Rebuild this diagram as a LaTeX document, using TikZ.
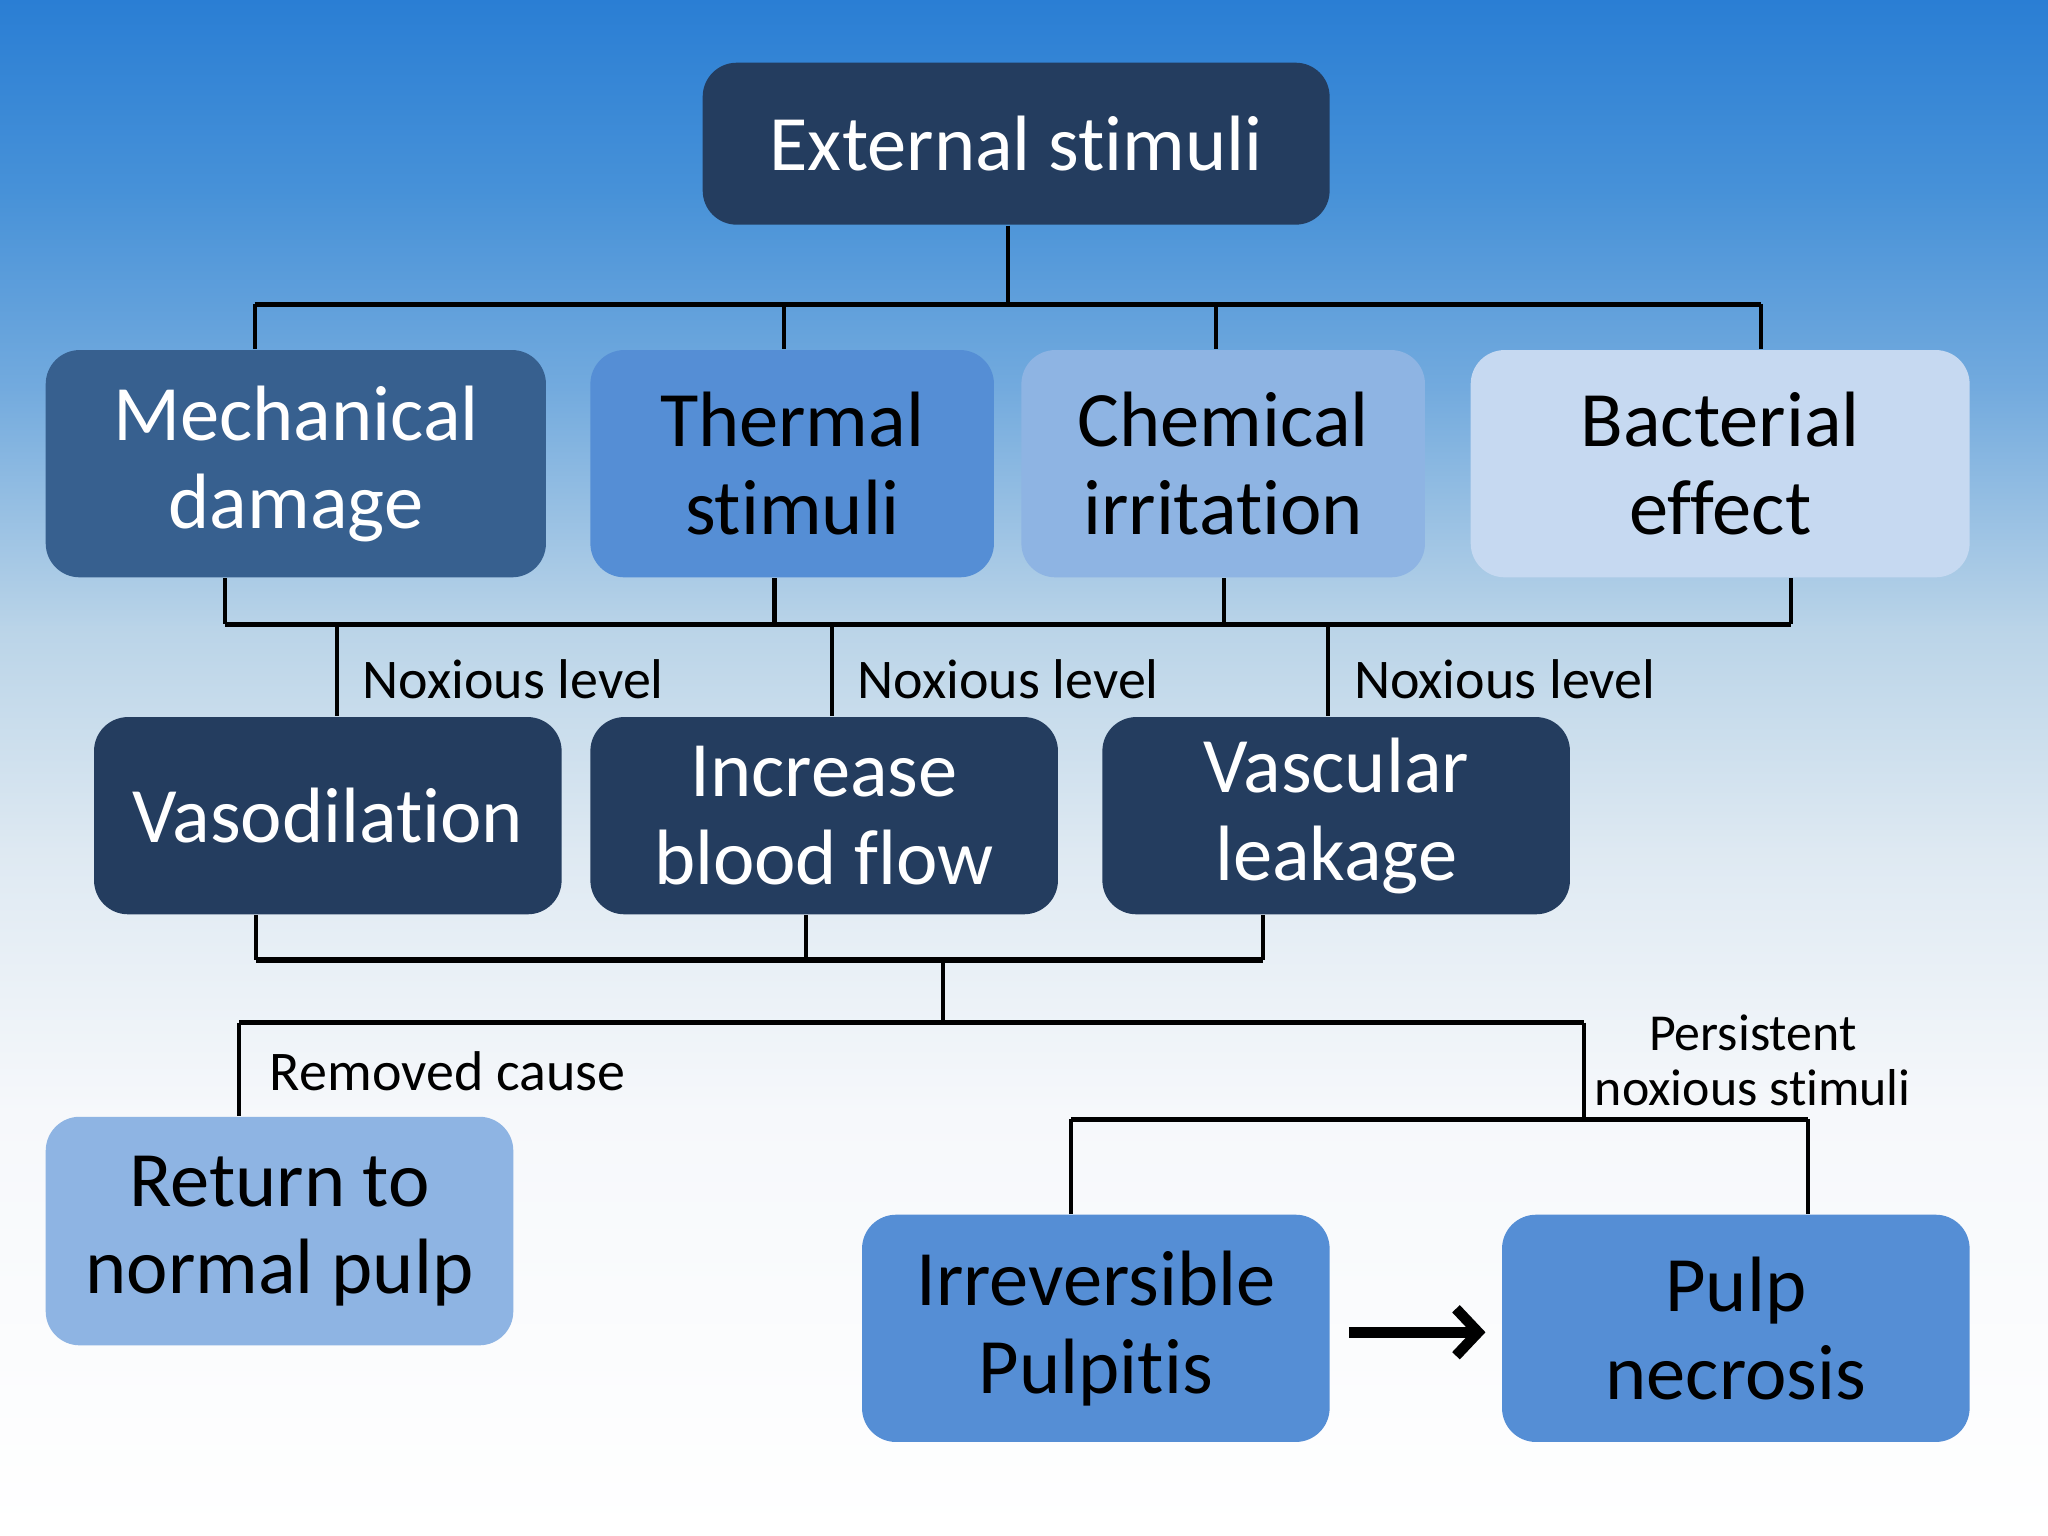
\documentclass[tikz,border=0pt]{standalone}
\usepackage{fontspec}
\setmainfont{Carlito}[Ligatures=NoCommon]
\usetikzlibrary{arrows.meta}
\definecolor{navy}{HTML}{243D5F}
\definecolor{mechc}{HTML}{37608F}
\definecolor{thermc}{HTML}{558ED5}
\definecolor{chemc}{HTML}{8EB4E3}
\definecolor{bactc}{HTML}{C6D9F1}
\definecolor{g0}{RGB}{42,126,212}
\definecolor{g1}{RGB}{72,146,216}
\definecolor{g2}{RGB}{116,171,222}
\definecolor{g3}{RGB}{186,212,232}
\definecolor{g4}{RGB}{222,233,242}
\definecolor{g5}{RGB}{246,248,251}
\definecolor{g6}{RGB}{255,255,255}
\begin{document}
\begin{tikzpicture}[x=0.1mm,y=-0.1mm,
  box/.style={rounded corners=2.6mm, inner sep=0pt, align=center,
    font=\fontsize{17.1}{19.1}\selectfont, minimum height=17.4mm},
  lbl/.style={inner sep=0pt, font=\fontsize{12.2}{12.6}\selectfont, text=black},
  conn/.style={draw=black, line width=0.9pt},
  hconn/.style={draw=black, line width=1.2pt},
  bigarrow/.style={draw=black, line width=2.3pt, -{Straight Barb[length=1.7mm,width=3.6mm]}}]
\useasboundingbox (0,0) rectangle (1568,1176);
% background
\shade[top color=g0,bottom color=g1] (0,0) rectangle (1568,152);
\shade[top color=g1,bottom color=g2] (0,150) rectangle (1568,302);
\shade[top color=g2,bottom color=g3] (0,300) rectangle (1568,482);
\shade[top color=g3,bottom color=g4] (0,480) rectangle (1568,652);
\shade[top color=g4,bottom color=g5] (0,650) rectangle (1568,852);
\shade[top color=g5,bottom color=g6] (0,850) rectangle (1568,1176);
% nodes
\node[box, fill=navy, text=white, minimum width=48mm, minimum height=12.4mm] (ext) at (778,110) {External stimuli};
\node[box, fill=mechc, text=white, minimum width=38.3mm] (mech) at (226.5,355) {Mechanical\\damage};
\node[box, fill=thermc, text=black, minimum width=30.9mm] (therm) at (606.5,355) {Thermal\\stimuli};
\node[box, fill=chemc, text=black, minimum width=30.9mm] (chem) at (936.5,355) {Chemical\\irritation};
\node[box, fill=bactc, text=black, minimum width=38.2mm] (bact) at (1317,355) {Bacterial\\effect};
\node[box, fill=navy, text=white, minimum width=35.8mm, minimum height=15.1mm] (vaso) at (251,624.5) {Vasodilation};
\node[box, fill=navy, text=white, minimum width=35.8mm, minimum height=15.1mm] (incr) at (631,624.5) {Increase\\blood flow};
\node[box, fill=navy, text=white, minimum width=35.8mm, minimum height=15.1mm] (vasc) at (1023,624.5) {Vascular\\leakage};
\node[box, fill=chemc, text=black, minimum width=35.8mm, minimum height=17.5mm] (ret) at (214,942.5) {Return to\\normal pulp};
\node[box, fill=thermc, text=black, minimum width=35.8mm] (irr) at (839,1017) {Irreversible\\Pulpitis};
\node[box, fill=thermc, text=black, minimum width=35.8mm] (nec) at (1329,1017) {Pulp\\necrosis};
% labels
\node[lbl, anchor=west] (nl1) at (277,520) {Noxious level};
\node[lbl, anchor=west] (nl2) at (656,520) {Noxious level};
\node[lbl, anchor=west] (nl3) at (1036,520) {Noxious level};
\node[lbl, anchor=west] (rc) at (206,820) {Removed cause};
\node[lbl, align=center, font=\fontsize{11.3}{11.9}\selectfont] (pns) at (1342,812) {Persistent\\noxious stimuli};
% junction coordinates
\coordinate (e0) at (772,233);
\coordinate (t1) at (195,233);
\coordinate (t2) at (600,233);
\coordinate (t3) at (931,233);
\coordinate (t4) at (1348,233);
\coordinate (u1) at (172,478);
\coordinate (u2) at (593,478);
\coordinate (u3) at (937,478);
\coordinate (u4) at (1371,478);
\coordinate (v1) at (258,478);
\coordinate (v2) at (637,478);
\coordinate (v3) at (1017,478);
\coordinate (w1) at (196,735);
\coordinate (w2) at (617,735);
\coordinate (w3) at (967,735);
\coordinate (m1) at (722,735);
\coordinate (m2) at (722,783);
\coordinate (r1) at (183,783);
\coordinate (r2) at (1213,783);
\coordinate (s0) at (1213,857);
\coordinate (s1) at (820,857);
\coordinate (s2) at (1384,857);
% connectors
\draw[conn] (ext.south -| e0) -- (e0);
\draw[hconn] (t1) -- (t4);
\draw[conn] (t1) -- (t1 |- mech.north);
\draw[conn] (t2) -- (t2 |- therm.north);
\draw[conn] (t3) -- (t3 |- chem.north);
\draw[conn] (t4) -- (t4 |- bact.north);
\draw[conn] (u1 |- mech.south) -- (u1);
\draw[conn] (u2 |- therm.south) -- (u2);
\draw[conn] (u3 |- chem.south) -- (u3);
\draw[conn] (u4 |- bact.south) -- (u4);
\draw[hconn] (u1) -- (u4);
\draw[conn] (v1) -- (v1 |- vaso.north);
\draw[conn] (v2) -- (v2 |- incr.north);
\draw[conn] (v3) -- (v3 |- vasc.north);
\draw[conn] (w1 |- vaso.south) -- (w1);
\draw[conn] (w2 |- incr.south) -- (w2);
\draw[conn] (w3 |- vasc.south) -- (w3);
\draw[hconn] (w1) -- (w3);
\draw[conn] (m1) -- (m2);
\draw[hconn] (r1) -- (r2);
\draw[conn] (r1) -- (r1 |- ret.north);
\draw[conn] (r2) -- (s0);
\draw[hconn] (s1) -- (s2);
\draw[conn] (s1) -- (s1 |- irr.north);
\draw[conn] (s2) -- (s2 |- nec.north);
\draw[bigarrow, shorten <=1.4mm, shorten >=1.2mm] ([yshift=-0.3mm]irr.east) -- ([yshift=-0.3mm]nec.west);
\end{tikzpicture}
\end{document}
